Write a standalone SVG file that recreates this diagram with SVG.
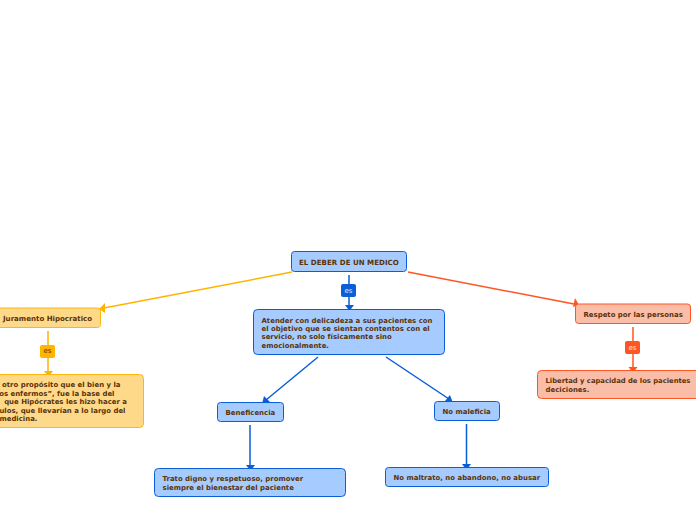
<svg xmlns="http://www.w3.org/2000/svg" width="696" height="520" viewBox="0 0 696 520">
<style>
text{font-family:"DejaVu Sans",Verdana,sans-serif;font-weight:700;font-size:6.95px;fill:#5a3208}
.b rect{fill:#a6ccff;stroke:#0a5fd8;stroke-width:1}
.y rect{fill:#ffd98a;stroke:#ffb60d;stroke-width:1}
.o rect{fill:#fabda8;stroke:#ff5522;stroke-width:1}
.l{fill:none;stroke-width:1.500}
.lb{stroke:#0a5fd8}.ly{stroke:#ffb400}.lo{stroke:#ff5522}
.fb{fill:#0a5fd8}.fy{fill:#ffb400}.fo{fill:#ff5522}
.tag{font-size:7px;font-weight:400;text-anchor:middle}
.e{text-anchor:end}
</style>
<g id="connectors">
<path class="l ly" d="M292 272L104 308"/><path class="fy" d="M99 309L105 303L105 313Z"/>
<path class="l lo" d="M408 272L574 304"/><path class="fo" d="M579 305L575 298L573 307Z"/>
<path class="l lb" d="M349 275V306"/><path class="fb" d="M345 305H354L349.500 311Z"/>
<path class="l lb" d="M318 357L266 400"/><path class="fb" d="M262 404L264 396L270 402Z"/>
<path class="l lb" d="M386 357L449 399"/><path class="fb" d="M453 403L445 401L450 395Z"/>
<path class="l lb" d="M250 425V466"/><path class="fb" d="M246 465H255L250.500 471Z"/>
<path class="l lb" d="M466.500 424V465"/><path class="fb" d="M462 464H471L466.500 470Z"/>
<path class="l ly" d="M48 331V372"/><path class="fy" d="M44 371H53L48.500 377Z"/>
<path class="l lo" d="M633 327V368"/><path class="fo" d="M628.500 367H637.500L633 373Z"/>
<rect class="fb" x="341" y="284" width="15" height="13" rx="2"/><text class="tag" x="348.500" y="293" style="fill:#d8e8ff">es</text>
<rect class="fy" x="40" y="345" width="15" height="13" rx="2"/><text class="tag" x="47.500" y="353">es</text>
<rect class="fo" x="625" y="341" width="15" height="13" rx="2"/><text class="tag" x="632.500" y="350" style="fill:#ffe4da">es</text>
</g>
<g id="n-root" class="b"><rect x="291.500" y="251.500" width="115" height="20" rx="3"/><text x="299" y="264.500" style="font-size:7.1px">EL DEBER DE UN MEDICO</text></g>
<g id="n-atender" class="b"><rect x="253.500" y="309.500" width="191" height="45" rx="4"/>
<text x="261.500" y="322.500">Atender con delicadeza a sus pacientes con</text>
<text x="261.500" y="331">el objetivo que se sientan contentos con el</text>
<text x="261.500" y="339">servicio, no solo físicamente sino</text>
<text x="261.500" y="348">emocionalmente.</text></g>
<g id="n-juramento" class="y"><rect x="-10" y="308" width="110.500" height="19.500" rx="3"/><text x="3" y="320.500" style="font-size:7.05px">Juramento Hipocratico</text></g>
<g id="n-juramento-desc" class="y"><rect x="-20" y="374.500" width="163.500" height="53" rx="4"/>
<text class="e" x="120.500" y="387">otro propósito que el bien y la</text>
<text class="e" x="114.500" y="395.500">os enfermos”, fue la base del</text>
<text class="e" x="127" y="404">que Hipócrates les hizo hacer a</text>
<text class="e" x="125.500" y="412.500">ulos, que llevarían a lo largo del</text>
<text class="e" x="37.500" y="421">medicina.</text></g>
<g id="n-respeto" class="o"><rect x="575.500" y="304" width="115" height="19.500" rx="3"/><text x="583.500" y="317">Respeto por las personas</text></g>
<g id="n-libertad" class="o"><rect x="537.500" y="370.500" width="175" height="28" rx="4"/>
<text x="545.500" y="383" style="font-size:6.8px">Libertad y capacidad de los pacientes</text>
<text x="545.500" y="392">deciciones.</text></g>
<g id="n-beneficencia" class="b"><rect x="217.500" y="402.500" width="66" height="19" rx="3"/><text x="225.500" y="414.500">Beneficencia</text></g>
<g id="n-nomaleficia" class="b"><rect x="434.500" y="401.500" width="65" height="19" rx="3"/><text x="442.500" y="414">No maleficia</text></g>
<g id="n-trato" class="b"><rect x="154.500" y="468.500" width="191" height="28" rx="4"/>
<text x="162.500" y="481">Trato digno y respetuoso, promover</text>
<text x="162.500" y="489.500">siempre el bienestar del paciente</text></g>
<g id="n-nomaltrato" class="b"><rect x="385.500" y="467.500" width="163" height="19" rx="3"/><text x="393.500" y="480">No maltrato, no abandono, no abusar</text></g>
</svg>
